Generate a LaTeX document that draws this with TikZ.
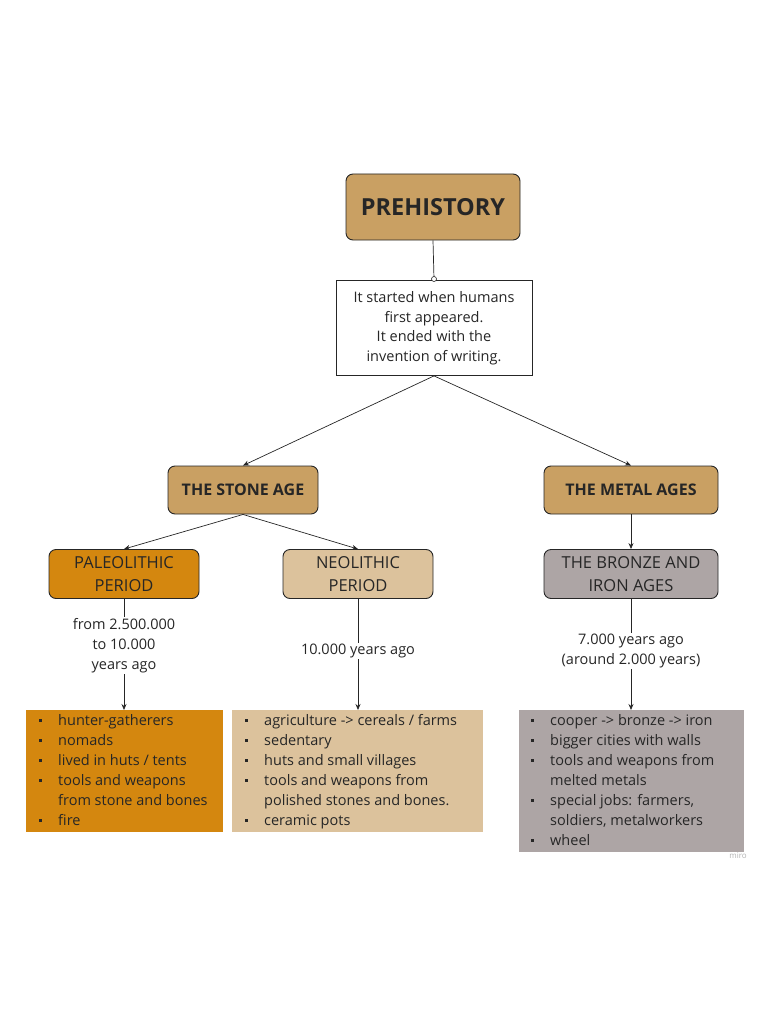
\documentclass[tikz,border=0pt]{standalone}
\usepackage{fontspec}
\setmainfont{Open Sans}
\usetikzlibrary{arrows.meta}
\definecolor{gold}{HTML}{C9A063}
\definecolor{orng}{HTML}{D4870F}
\definecolor{tan}{HTML}{DCC29C}
\definecolor{gry}{HTML}{ADA5A5}
\definecolor{txt}{HTML}{262626}
\newcommand{\bl}{\hspace*{1pt}\raisebox{3.5pt}{\rule{2.6pt}{2.6pt}}}
\begin{document}
\begin{tikzpicture}[x=1pt,y=-1pt,
  every node/.style={text=txt},
  box/.style={draw=txt,line width=0.9pt,rounded corners=7pt,align=center,inner sep=0pt},
  list/.style={anchor=north west,inner sep=0pt,align=left,font=\fontsize{14.5}{20}\selectfont},
  arr/.style={-{Stealth[length=6pt,width=5pt]},draw=txt,line width=0.7pt},
  lab/.style={fill=white,align=center,font=\fontsize{14.5}{20}\selectfont,inner sep=1pt}]
\useasboundingbox (0,0) rectangle (768,1024);
\node[box,fill=gold,minimum width=174pt,minimum height=66pt,font=\bfseries\fontsize{23.5}{26}\selectfont] (pre) at (433,207) {PREHISTORY};
\node[draw=txt,line width=0.8pt,fill=white,minimum width=196pt,minimum height=95pt,align=center,font=\fontsize{14.5}{19.5}\selectfont,inner sep=0pt] (def) at (434,328) {It started when humans\\first appeared.\\It ended with the\\invention of writing.};
\node[box,fill=gold,minimum width=150pt,minimum height=48pt,font=\bfseries\fontsize{16}{18}\selectfont] (stone) at (243,490) {THE STONE AGE};
\node[box,fill=gold,minimum width=174pt,minimum height=48pt,font=\bfseries\fontsize{16}{18}\selectfont] (metal) at (631,490) {THE METAL AGES};
\node[box,fill=orng,minimum width=150pt,minimum height=49pt,font=\fontsize{16.5}{23}\selectfont] (paleo) at (124,574) {PALEOLITHIC\\PERIOD};
\node[box,fill=tan,minimum width=150pt,minimum height=49pt,font=\fontsize{16.5}{23}\selectfont] (neo) at (358,574) {NEOLITHIC\\PERIOD};
\node[box,fill=gry,minimum width=174pt,minimum height=49pt,font=\fontsize{16.5}{23}\selectfont] (bronze) at (631,574) {THE BRONZE AND\\IRON AGES};
% list boxes
\fill[orng] (26,710) rectangle (223,832);
\fill[tan] (232,710) rectangle (483,832);
\fill[gry] (519,710) rectangle (744,852);
\coordinate (lp) at (124,710);
\coordinate (ln) at (358,710);
\coordinate (lm) at (631,710);
\node[list] (tp) at (38,711) {\begin{tabular}{@{}p{20pt}@{}l@{}}
\bl & hunter-gatherers\\ \bl & nomads\\ \bl & lived in huts / tents\\ \bl & tools and weapons\\ & from stone and bones\\ \bl & fire\end{tabular}};
\node[list] (tn) at (244,711) {\begin{tabular}{@{}p{20pt}@{}l@{}}
\bl & agriculture -> cereals / farms\\ \bl & sedentary\\ \bl & huts and small villages\\ \bl & tools and weapons from\\ & polished stones and bones.\\ \bl & ceramic pots\end{tabular}};
\node[list] (tm) at (530,711) {\begin{tabular}{@{}p{20pt}@{}l@{}}
\bl & cooper -> bronze -> iron\\ \bl & bigger cities with walls\\ \bl & tools and weapons from\\ & melted metals\\ \bl & special jobs: farmers,\\ & soldiers, metalworkers\\ \bl & wheel\end{tabular}};
\node[text=gray!60,font=\fontsize{8}{9}\selectfont] (miro) at (738,856) {miro};
% connectors
\coordinate (c) at (434,279);
\draw[draw=txt,line width=0.7pt] (pre.south) -- (c);
\draw[draw=txt,line width=0.6pt,fill=white] (c) circle (2.5pt);
\draw[arr] (def.south) -- (stone.north);
\draw[arr] (def.south) -- (metal.north);
\draw[arr] (stone.south) -- (paleo.north);
\draw[arr] (stone.south) -- (neo.north);
\draw[arr] (metal.south) -- (bronze.north);
\draw[arr] (paleo.south) -- node[lab,pos=0.42]{from 2.500.000\\to 10.000\\years ago} (lp);
\draw[arr] (neo.south) -- node[lab,pos=0.47]{10.000 years ago} (ln);
\draw[arr] (bronze.south) -- node[lab,pos=0.47]{7.000 years ago\\(around 2.000 years)} (lm);
\end{tikzpicture}
\end{document}
